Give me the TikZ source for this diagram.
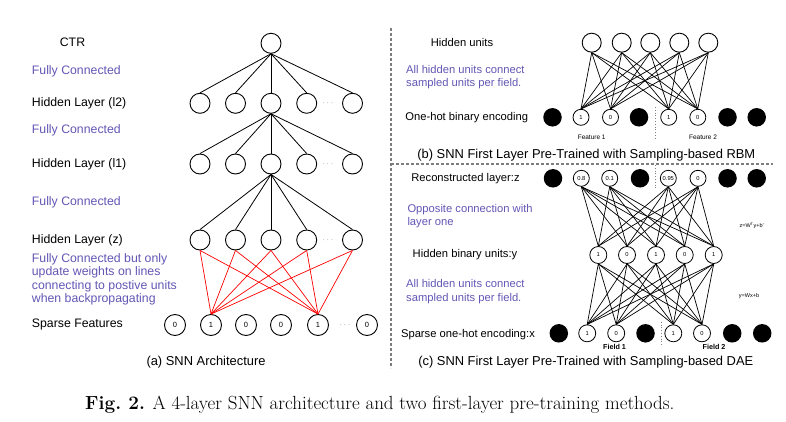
\documentclass[tikz,border=0pt]{standalone}
\usepackage{fontspec}
\setsansfont{Liberation Sans}
\definecolor{fcpurple}{RGB}{98,86,180}
\definecolor{sepgray}{RGB}{125,125,125}

\begin{document}
\begin{tikzpicture}[x=1pt,y=-1pt,
    neuron/.style={draw,circle,line width=0.9pt,inner sep=0pt,minimum size=20pt},
    sneuron/.style={neuron,minimum size=21pt,font=\sffamily\fontsize{7.5}{8}\selectfont},
    hneuron/.style={neuron,minimum size=19pt},
    bitnode/.style={draw,circle,line width=0.8pt,inner sep=0pt,minimum size=16pt,font=\sffamily\fontsize{5.8}{6}\selectfont},
    ybitnode/.style={bitnode,minimum size=17pt},
    offnode/.style={circle,fill=black,inner sep=0pt,minimum size=18.5pt},
    dotsnode/.style={text=gray,inner sep=0pt,font=\fontsize{9}{9}\selectfont},
    lbl/.style={inner sep=0pt,font=\sffamily\fontsize{12.3}{13.3}\selectfont},
    fclbl/.style={lbl,text=fcpurple,align=left},
    rlbl/.style={inner sep=0pt,font=\sffamily\fontsize{11.2}{13.5}\selectfont},
    rfclbl/.style={rlbl,text=fcpurple,align=left},
    smalllbl/.style={inner sep=0pt,font=\sffamily\fontsize{6.5}{7}\selectfont},
    subcaption/.style={inner sep=0pt,font=\sffamily\fontsize{12.9}{14}\selectfont},
    sepline/.style={sepgray,line width=1.2pt,dash pattern=on 3pt off 2pt}]
      \useasboundingbox (0,0) rectangle (786,422);
      % (a) SNN architecture
      \draw
        (271,43.3) node[neuron] (ctr){}
        (200,103.3) node[neuron] (a1){}
        (235.5,103.3) node[neuron] (a2){}
        (271,103.3) node[neuron] (a3){}
        (306.7,103.3) node[neuron] (a4){}
        (352.5,103.3) node[neuron] (a5){}
        (328,103.3) node[dotsnode] (adots){$\cdots$}
        (200,164) node[neuron] (b1){}
        (235.5,164) node[neuron] (b2){}
        (271,164) node[neuron] (b3){}
        (306.7,164) node[neuron] (b4){}
        (352.5,164) node[neuron] (b5){}
        (328,164) node[dotsnode] (bdots){$\cdots$}
        (200,240) node[neuron] (z1){}
        (235.5,240) node[neuron] (z2){}
        (271,240) node[neuron] (z3){}
        (306.7,240) node[neuron] (z4){}
        (352.5,240) node[neuron] (z5){}
        (328,240) node[dotsnode] (zdots){$\cdots$}
        (175,325) node[sneuron] (s1){0}
        (211,325) node[sneuron] (s2){1}
        (246,325) node[sneuron] (s3){0}
        (281,325) node[sneuron] (s4){0}
        (318,325) node[sneuron] (s5){1}
        (367,325) node[sneuron] (s6){0}
        (345,325) node[dotsnode] (sdots){$\cdots$};
      \draw
        (72.5,42.7) node[lbl] (ctrtxt){CTR}
        (31.7,71.7) node[fclbl,anchor=west] (fc1){Fully Connected}
        (31.7,103.3) node[lbl,anchor=west] (l2txt){Hidden Layer (l2)}
        (31.7,130) node[fclbl,anchor=west] (fc2){Fully Connected}
        (31.7,164) node[lbl,anchor=west] (l1txt){Hidden Layer (l1)}
        (31.7,202.3) node[fclbl,anchor=west] (fc3){Fully Connected}
        (31.7,240) node[lbl,anchor=west] (ztxt){Hidden Layer (z)}
        (31.7,279.3) node[fclbl,anchor=west] (fc4){Fully Connected but only\\update weights on  lines\\connecting to postive units\\when backpropagating}
        (31.7,324) node[lbl,anchor=west] (stxt){Sparse Features}
        (206,361.7) node[subcaption] (capa){(a) SNN Architecture};
      \begin{scope}[line width=0.8pt]
        \draw (ctr.south) to (a1.north);
        \draw (ctr.south) to (a2.north);
        \draw (ctr.south) to (a3.north);
        \draw (ctr.south) to (a4.north);
        \draw (ctr.south) to (a5.north);
        \draw (a3.south) to (b1.north);
        \draw (a3.south) to (b2.north);
        \draw (a3.south) to (b3.north);
        \draw (a3.south) to (b4.north);
        \draw (a3.south) to (b5.north);
        \draw (b3.south) to (z1.north);
        \draw (b3.south) to (z2.north);
        \draw (b3.south) to (z3.north);
        \draw (b3.south) to (z4.north);
        \draw (b3.south) to (z5.north);
      \end{scope}
      \begin{scope}[red,line width=0.7pt]
        \draw (z1.south) to (s2.north);
        \draw (z2.south) to (s2.north);
        \draw (z3.south) to (s2.north);
        \draw (z4.south) to (s2.north);
        \draw (z5.south) to (s2.north);
        \draw (z1.south) to (s5.north);
        \draw (z2.south) to (s5.north);
        \draw (z3.south) to (s5.north);
        \draw (z4.south) to (s5.north);
        \draw (z5.south) to (s5.north);
      \end{scope}
      % separators
      \draw[sepline] (391,28) -- (391,368);
      \draw[sepline] (391,164) -- (773,164);
      % (b) RBM
      \draw
        (591.7,42.7) node[hneuron] (h1){}
        (621.7,42.7) node[hneuron] (h2){}
        (650.3,42.7) node[hneuron] (h3){}
        (679.3,42.7) node[hneuron] (h4){}
        (708.3,42.7) node[hneuron] (h5){}
        (552.5,117.3) node[offnode] (v1){}
        (581,117.3) node[bitnode] (v2){1}
        (610.5,117.3) node[bitnode] (v3){0}
        (639,117.3) node[offnode] (v4){}
        (668.7,117.3) node[bitnode] (v5){1}
        (697.8,117.3) node[bitnode] (v6){0}
        (727.5,117.3) node[offnode] (v7){}
        (756.7,117.3) node[offnode] (v8){};
      \draw[gray,dotted,line width=0.8pt] (655,107) -- (655,140);
      \draw
        (462,42.7) node[rlbl] (htxt){Hidden units}
        (406,77) node[rfclbl,anchor=west] (rbmfc){All hidden units connect\\sampled units per field.}
        (466.7,117.3) node[rlbl] (vtxt){One-hot binary encoding}
        (591.7,137.3) node[smalllbl] (feat1){Feature 1}
        (703,137.3) node[smalllbl] (feat2){Feature 2}
        (586.3,155) node[subcaption] (capb){(b) SNN First Layer Pre-Trained with Sampling-based RBM};
      \begin{scope}[line width=0.7pt]
        \draw (h1.south) to (v2.north);
        \draw (h1.south) to (v3.north);
        \draw (h1.south) to (v5.north);
        \draw (h1.south) to (v6.north);
        \draw (h2.south) to (v2.north);
        \draw (h2.south) to (v3.north);
        \draw (h2.south) to (v5.north);
        \draw (h2.south) to (v6.north);
        \draw (h3.south) to (v2.north);
        \draw (h3.south) to (v3.north);
        \draw (h3.south) to (v5.north);
        \draw (h3.south) to (v6.north);
        \draw (h4.south) to (v2.north);
        \draw (h4.south) to (v3.north);
        \draw (h4.south) to (v5.north);
        \draw (h4.south) to (v6.north);
        \draw (h5.south) to (v2.north);
        \draw (h5.south) to (v3.north);
        \draw (h5.south) to (v5.north);
        \draw (h5.south) to (v6.north);
      \end{scope}
      % (c) DAE
      \draw
        (553,178.3) node[offnode] (r1){}
        (581.3,178.3) node[bitnode] (r2){0.8}
        (609.7,178.3) node[bitnode] (r3){0.1}
        (640,178.3) node[offnode] (r4){}
        (668.3,178.3) node[bitnode] (r5){0.95}
        (698,178.3) node[bitnode] (r6){0}
        (727.5,178.3) node[offnode] (r7){}
        (756.7,178.3) node[offnode] (r8){}
        (598.3,255) node[ybitnode] (y1){1}
        (627,255) node[ybitnode] (y2){0}
        (656,255) node[ybitnode] (y3){1}
        (684.7,255) node[ybitnode] (y4){0}
        (713.7,255) node[ybitnode] (y5){1}
        (558.8,333.3) node[offnode] (x1){}
        (587.2,333.3) node[ybitnode] (x2){1}
        (616.2,333.3) node[ybitnode] (x3){0}
        (645.5,333.3) node[offnode] (x4){}
        (673.3,333.3) node[ybitnode] (x5){1}
        (702,333.3) node[ybitnode] (x6){0}
        (732.2,333.3) node[offnode] (x7){}
        (762.2,333.3) node[offnode] (x8){};
      \draw[gray,dotted,line width=0.8pt] (655,165) -- (655,190);
      \draw[gray,dotted,line width=0.8pt] (661.7,321.7) -- (661.7,345);
      \draw
        (465.5,178.3) node[rlbl] (rtxt){Reconstructed layer:z}
        (407.3,216.3) node[rfclbl,anchor=west] (oppfc){Opposite connection with\\layer one}
        (751.7,226) node[smalllbl,font=\sffamily\fontsize{5.5}{6}\selectfont] (zeq){z=W\textsuperscript{T}y+b'}
        (465,255) node[rlbl] (ytxt){Hidden binary units:y}
        (406,291.7) node[rfclbl,anchor=west] (daefc){All hidden units connect\\sampled units per field.}
        (749,295.7) node[smalllbl,font=\sffamily\fontsize{5.5}{6}\selectfont] (yeq){y=Wx+b}
        (468,335) node[rlbl] (xtxt){Sparse one-hot encoding:x}
        (614.5,346.7) node[smalllbl,font=\sffamily\bfseries\fontsize{7.2}{8}\selectfont] (field1){Field 1}
        (714,346.7) node[smalllbl,font=\sffamily\bfseries\fontsize{7.2}{8}\selectfont] (field2){Field 2}
        (585.8,361.7) node[subcaption] (capc){(c) SNN First Layer Pre-Trained with Sampling-based DAE};
      \begin{scope}[line width=0.7pt]
        \draw (r2.south) to (y1.north);
        \draw (r2.south) to (y2.north);
        \draw (r2.south) to (y3.north);
        \draw (r2.south) to (y4.north);
        \draw (r2.south) to (y5.north);
        \draw (r3.south) to (y1.north);
        \draw (r3.south) to (y2.north);
        \draw (r3.south) to (y3.north);
        \draw (r3.south) to (y4.north);
        \draw (r3.south) to (y5.north);
        \draw (r5.south) to (y1.north);
        \draw (r5.south) to (y2.north);
        \draw (r5.south) to (y3.north);
        \draw (r5.south) to (y4.north);
        \draw (r5.south) to (y5.north);
        \draw (r6.south) to (y1.north);
        \draw (r6.south) to (y2.north);
        \draw (r6.south) to (y3.north);
        \draw (r6.south) to (y4.north);
        \draw (r6.south) to (y5.north);
        \draw (y1.south) to (x2.north);
        \draw (y1.south) to (x3.north);
        \draw (y1.south) to (x5.north);
        \draw (y1.south) to (x6.north);
        \draw (y2.south) to (x2.north);
        \draw (y2.south) to (x3.north);
        \draw (y2.south) to (x5.north);
        \draw (y2.south) to (x6.north);
        \draw (y3.south) to (x2.north);
        \draw (y3.south) to (x3.north);
        \draw (y3.south) to (x5.north);
        \draw (y3.south) to (x6.north);
        \draw (y4.south) to (x2.north);
        \draw (y4.south) to (x3.north);
        \draw (y4.south) to (x5.north);
        \draw (y4.south) to (x6.north);
        \draw (y5.south) to (x2.north);
        \draw (y5.south) to (x3.north);
        \draw (y5.south) to (x5.north);
        \draw (y5.south) to (x6.north);
      \end{scope}
      % caption
      \draw (85,405) node[anchor=west,inner sep=0pt,font=\rmfamily\fontsize{19}{22}\selectfont] (fig){\textbf{Fig.~2.} A 4-layer SNN architecture and two first-layer pre-training methods.};
    \end{tikzpicture}
\end{document}
